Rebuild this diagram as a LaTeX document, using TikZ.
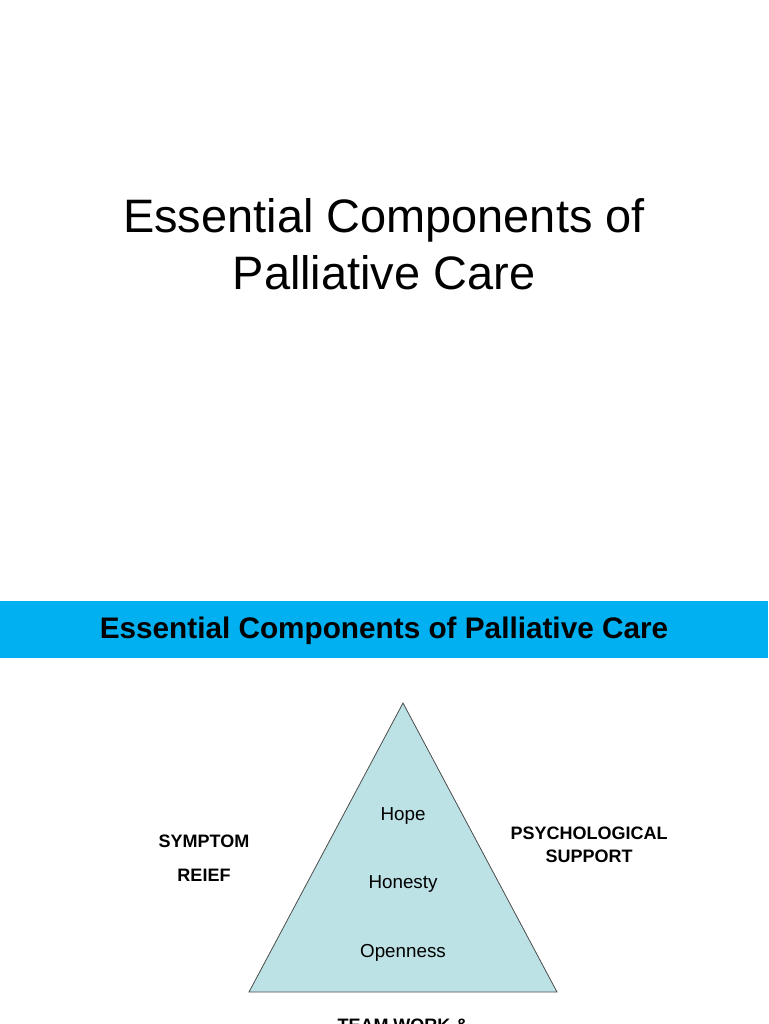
\documentclass[tikz,border=0pt]{standalone}
\usepackage{fontspec}
\setmainfont{Liberation Sans}
\definecolor{band}{RGB}{0,176,240}
\definecolor{tri}{RGB}{188,226,230}
\begin{document}
\begin{tikzpicture}[x=0.75pt,y=-0.75pt,
  lbl/.style={font=\fontsize{13.5}{15}\selectfont\bfseries,align=center,inner sep=0},
  tl/.style={font=\fontsize{14.1}{16}\selectfont,inner sep=0}]
\useasboundingbox (0,0) rectangle (768,1024);
\clip (0,0) rectangle (768,1024);
\node[font=\fontsize{35.2}{43}\selectfont,align=center] (title) at (384,244) {Essential Components of\\Palliative Care};
\fill[band] (0,601) rectangle (768,658);
\node[font=\fontsize{22.3}{26}\selectfont\bfseries] (head) at (384,631) {Essential Components of Palliative Care};
\filldraw[fill=tri,draw=black!70,line width=0.6pt] (403,703) coordinate (apex) -- (557,992) coordinate (br) -- (249,992) coordinate (bl) -- cycle;
\node[tl] (hope) at (403,816) {Hope};
\node[tl] (hon) at (403,884) {Honesty};
\node[tl] (open) at (403,953) {Openness};
\node[lbl] (s1) at (204,841) {SYMPTOM};
\node[lbl] (s2) at (204,875) {REIEF};
\node[lbl,font=\fontsize{13.5}{17}\selectfont\bfseries] (psy) at (589,845) {PSYCHOLOGICAL\\SUPPORT};
\node[lbl] (team) at (403,1025) {TEAM WORK \&};
\end{tikzpicture}
\end{document}
